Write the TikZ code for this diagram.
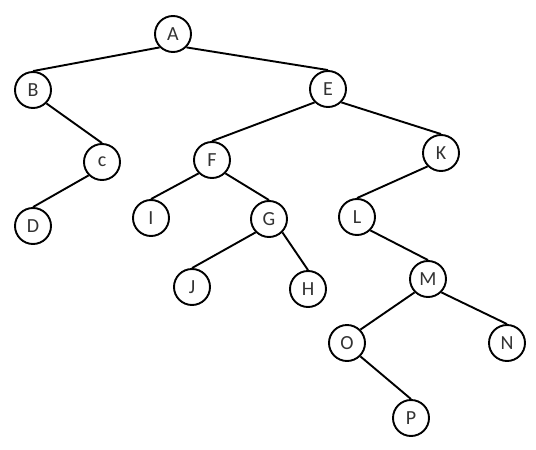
\documentclass[tikz,border=0pt]{standalone}
\usepackage{fontspec}
\setmainfont{Carlito}
\begin{document}
\begin{tikzpicture}[x=1pt,y=-1pt,
  vtx/.style={circle,draw=black,line width=1.9pt,minimum size=36pt,inner sep=0pt,fill=white,text=black!80,font=\fontsize{20}{20}\selectfont},
  edge/.style={line width=1.9pt,draw=black}]
\useasboundingbox (0,0) rectangle (536,450);
\node[vtx] (A) at (173,34) {A};
\node[vtx] (B) at (33,90) {B};
\node[vtx] (E) at (328,89) {E};
\node[vtx] (c) at (102,162) {c};
\node[vtx] (F) at (212,160) {F};
\node[vtx] (K) at (441,153) {K};
\node[vtx] (D) at (33,226) {D};
\node[vtx] (I) at (151,218) {I};
\node[vtx] (G) at (269,219) {G};
\node[vtx] (L) at (357,217) {L};
\node[vtx] (J) at (192,287) {J};
\node[vtx] (H) at (308,289) {H};
\node[vtx] (M) at (428,279) {M};
\node[vtx] (O) at (347,343) {O};
\node[vtx] (N) at (507,343) {N};
\node[vtx] (P) at (411,418) {P};
\draw[edge] (A.south west) -- (B.north);
\draw[edge] (A.south east) -- (E.north);
\draw[edge] (B.south east) -- (c.north);
\draw[edge] (c.south west) -- (D.north);
\draw[edge] (E.south west) -- (F.north);
\draw[edge] (E.south east) -- (K.north);
\draw[edge] (F.south west) -- (I.north);
\draw[edge] (F.south east) -- (G.north);
\draw[edge] (G.south west) -- (J.north);
\draw[edge] (G.south east) -- (H.north);
\draw[edge] (K.south west) -- (L.north);
\draw[edge] (L.south east) -- (M.north);
\draw[edge] (M.south west) -- (O.north east);
\draw[edge] (M.south east) -- (N.north);
\draw[edge] (O.south east) -- (P.north);
\end{tikzpicture}
\end{document}
